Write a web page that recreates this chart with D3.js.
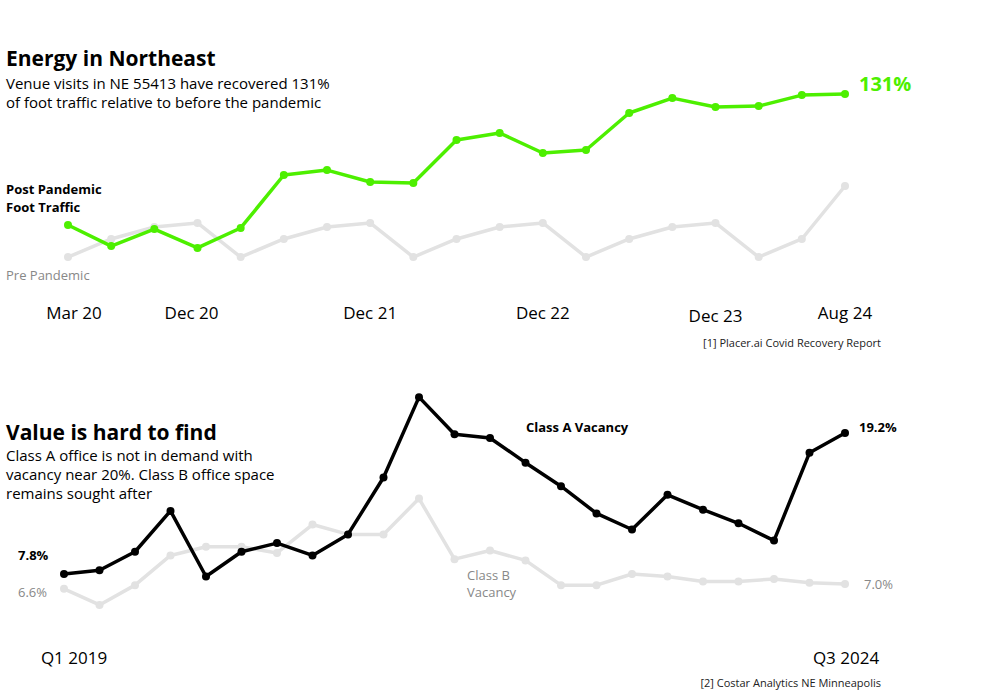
<!DOCTYPE html>
<html><head><meta charset="utf-8">
<script src="https://cdn.jsdelivr.net/npm/d3@7"></script>
<style>body{margin:0;background:#fff}text{font-family:"Open Sans",sans-serif}</style>
</head><body>
<svg id="c" width="997" height="693"></svg>
<script>
// top chart: foot traffic index (131 = latest)
var postPandemic=[47.7,34.3,45.1,33.1,45.8,79.5,82.6,75.0,74.4,101.7,106.2,93.5,95.4,118.9,128.4,122.7,123.3,130.3,131];
var prePandemic=[27.3,38.8,46.4,49.0,27.3,38.8,46.4,49.0,27.3,38.8,46.4,49.0,27.3,38.8,46.4,49.0,27.3,38.8,72.5];
var topTicks=[[0,"Mar 20"],[3,"Dec 20"],[7,"Dec 21"],[11,"Dec 22"],[15,"Dec 23"],[18,"Aug 24"]];
// bottom chart: vacancy %
var classA=[7.8,8.1,9.6,12.9,7.6,9.6,10.3,9.3,11.0,15.6,22.1,19.1,18.8,16.8,14.9,12.7,11.4,14.2,13.0,11.9,10.5,17.6,19.2];
var classB=[6.6,5.3,6.9,9.3,10.0,10.0,9.5,11.8,11.0,11.0,13.9,9.0,9.7,8.9,6.9,6.9,7.8,7.6,7.2,7.2,7.4,7.1,7.0];

var svg=d3.select("#c");
function txt(x,y,s,size,weight,fill,anchor){
  return svg.append("text").attr("x",x).attr("y",y).text(s).attr("font-size",size)
    .attr("font-weight",weight||400).attr("fill",fill||"#000").attr("text-anchor",anchor||"start");
}
function series(data,x,y,color,w,r){
  var g=svg.append("g");
  g.append("path").datum(data).attr("fill","none").attr("stroke",color).attr("stroke-width",w)
    .attr("stroke-linejoin","round").attr("d",d3.line().x((d,i)=>x(i)).y(d=>y(d)));
  g.selectAll("circle").data(data).join("circle").attr("cx",(d,i)=>x(i)).attr("cy",d=>y(d)).attr("r",r).attr("fill",color);
}

// top
var x1=d3.scaleLinear().domain([0,18]).range([68,845]);
var y1=d3.scaleLinear().domain([0,131]).range([300,94]);
series(prePandemic,x1,y1,"#e2e2e2",3.5,4);
series(postPandemic,x1,y1,"#4def00",3.5,4);
txt(6,66,"Energy in Northeast",21,700);
txt(6,89,"Venue visits in NE 55413 have recovered 131%",15);
txt(6,108,"of foot traffic relative to before the pandemic",15);
txt(6,194,"Post Pandemic",13,700);
txt(6,212,"Foot Traffic",13,700);
txt(6,280,"Pre Pandemic",13,400,"#888");
txt(859,91,"131%",20,700,"#4def00");
topTicks.forEach(t=>txt(x1(t[0])+(t[0]==0?6:t[0]==3?-6:0),t[0]==15?322:319,t[1],17,400,"#000","middle"));
txt(881,347,"[1] Placer.ai Covid Recovery Report",11,400,"#222","end");

// bottom
var x2=d3.scaleLinear().domain([0,22]).range([64,845]);
var y2=d3.scaleLinear().domain([7.8,19.2]).range([574,433]);
series(classB,x2,y2,"#e2e2e2",3.5,4);
series(classA,x2,y2,"#000",3.5,4);
txt(6,440,"Value is hard to find",21,700);
txt(6,461,"Class A office is not in demand with",15);
txt(6,480,"vacancy near 20%. Class B office space",15);
txt(6,499,"remains sought after",15);
txt(18,560,"7.8%",13,700);
txt(18,597,"6.6%",13,400,"#888");
txt(859,432,"19.2%",13,700);
txt(864,589,"7.0%",13,400,"#888");
txt(526,432,"Class A Vacancy",13,700);
txt(467,580,"Class B",13,400,"#888");
txt(467,597,"Vacancy",13,400,"#888");
txt(74,664,"Q1 2019",17,400,"#000","middle");
txt(846,664,"Q3 2024",17,400,"#000","middle");
txt(881,687,"[2] Costar Analytics NE Minneapolis",11,400,"#222","end");
</script>
</body></html>
